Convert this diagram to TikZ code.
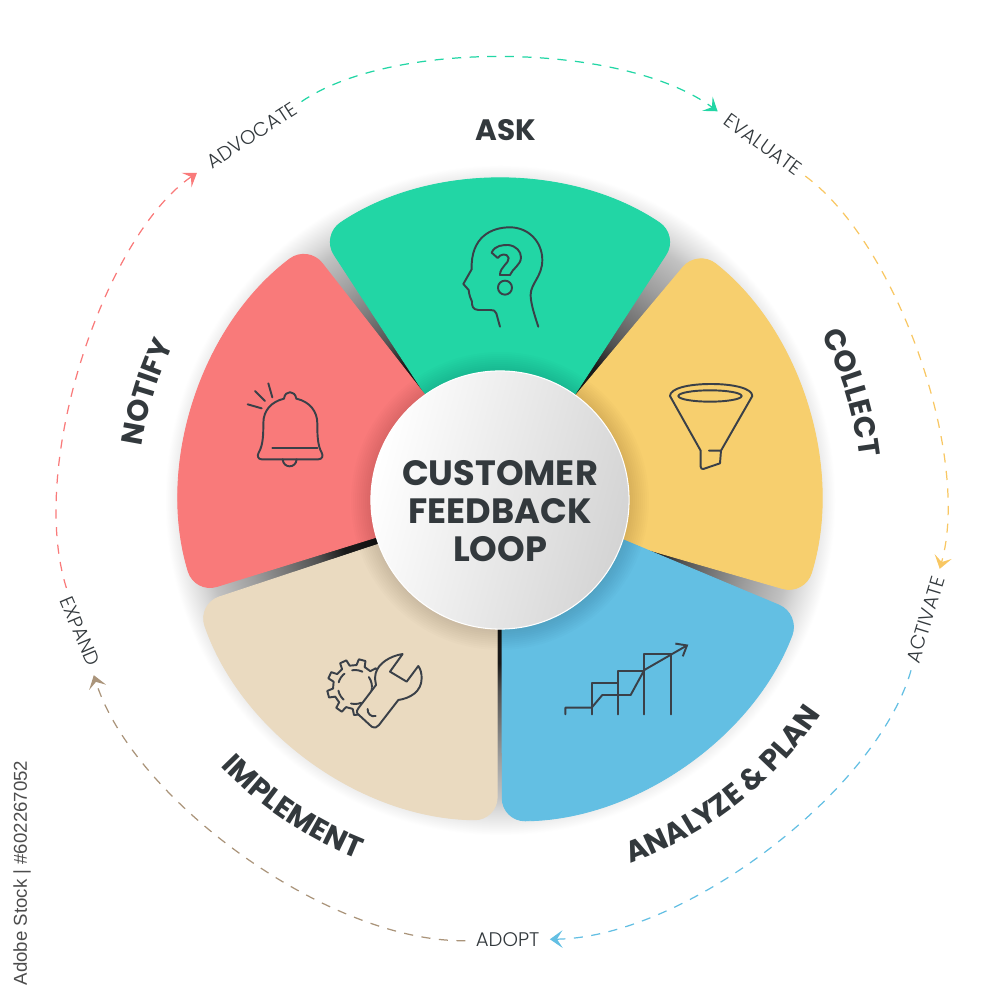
\documentclass[tikz,border=0pt]{standalone}
\usepackage{fontspec}
\usepackage{xcolor}
\usepackage{tikz}
\usetikzlibrary{arrows.meta,decorations.text}
\newfontfamily\poppinsbold{Poppins}[UprightFont=* Bold]
\newfontfamily\poppinslight{Poppins}[UprightFont=* Light]
\newfontfamily\stamp{Liberation Sans}
\newcommand{\bandfont}{\poppinsbold\fontsize{8.4}{10}\selectfont\color{inkgrey}}
\definecolor{inkgrey}{RGB}{51,57,61}
\definecolor{linegrey}{RGB}{58,64,72}
\definecolor{askgreen}{RGB}{34,214,165}
\definecolor{collectyellow}{RGB}{247,207,110}
\definecolor{planblue}{RGB}{99,191,227}
\definecolor{implementtan}{RGB}{234,218,192}
\definecolor{notifyred}{RGB}{249,122,122}
\definecolor{expandbrown}{RGB}{170,148,122}
\pgfdeclareradialshading{wheelhalo}{\pgfpoint{0bp}{0bp}}{%
  color(0bp)=(black!90);
  color(11.6bp)=(black!90);
  color(13.6bp)=(black!68);
  color(18.4bp)=(black!38);
  color(21.1bp)=(black!24);
  color(22bp)=(black!15);
  color(23.8bp)=(white);
  color(50bp)=(white)}
\tikzset{
  wedge/.style={draw=white,line width=0.25pt,rounded corners=6.5pt},
  iconline/.style={draw=linegrey,line width=0.55pt,line cap=round,line join=round},
  looplabel/.style={font=\poppinslight\fontsize{5.6}{7}\selectfont,text=inkgrey,inner ysep=1pt,inner xsep=2.5pt},
  looparrow/.style={line width=0.35pt,dash pattern=on 2.6pt off 2.4pt,looseness=0.86,
    -{Stealth[inset=1.6pt,length=3.6pt,width=5pt]}},
  bandtext/.style={decorate,decoration={text along path,text align=center,text={|\bandfont|#1}}},
}
\begin{document}
\begin{tikzpicture}[x=0.01cm,y=0.01cm]
  \useasboundingbox (-500,-500) rectangle (500,500);
  % soft shadow under the wheel
  \shade[shading=wheelhalo] (0,0) circle (352);
  % the five segments
  \fill[wedge,askgreen] (-6,0) -- (124:319) arc[start angle=124,end angle=56,radius=319] -- (6,0) -- cycle;
  \fill[wedge,collectyellow] (-12,0) -- (51.7:319) arc[start angle=51.7,end angle=-17.3,radius=319] -- (0,-7) -- cycle;
  \fill[wedge,planblue] (2,11) -- (-20.8:321) arc[start angle=-20.8,end angle=-89.6,radius=321] -- cycle;
  \fill[wedge,implementtan] (-3,-5) -- (-90.5:320) arc[start angle=-90.5,end angle=-161,radius=320] -- cycle;
  \fill[wedge,notifyred] (7,0) -- (127:319) arc[start angle=127,end angle=197,radius=319] -- (0,1) -- cycle;
  % shadow of the disc
  \foreach \r in {131,133,...,149}
    \fill[black,opacity=0.012] (0,-1) circle (\r);
  \node[circle,minimum size=2.58cm,inner sep=0pt,draw=white,line width=0.3pt,
    left color=white,right color=black!17,shading angle=75] (hub) at (0,0) {};
  \node[font=\poppinsbold\fontsize{10}{10.7}\selectfont,text=inkgrey,align=center] (hubtitle) at (0,-11)
    {CUSTOMER\\FEEDBACK\\LOOP};
  % band names
  \node[font=\bandfont] (ask) at (6,370) {ASK};
  \path[bandtext={COLLECT}] (28:362) arc[start angle=28,end angle=6,radius=362];
  \path[bandtext={ANALYZE {\&} PLAN}] (-76:386) arc[start angle=-76,end angle=-28,radius=386];
  \path[bandtext={IMPLEMENT}] (212:386) arc[start angle=212,end angle=260,radius=386];
  \path[bandtext={NOTIFY}] (176:362) arc[start angle=176,end angle=150,radius=362];
  % outer loop
  \node[looplabel,rotate=33] (advocate) at (124.2:441) {ADVOCATE};
  \node[looplabel,rotate=-36] (evaluate) at (53.5:442) {EVALUATE};
  \node[looplabel,rotate=73] (activate) at (-15.7:442) {ACTIVATE};
  \node[looplabel] (adopt) at (-89:440) {ADOPT};
  \node[looplabel,rotate=-67] (expand) at (197.4:440) {EXPAND};
  \draw[looparrow,askgreen,shorten <=17pt,shorten >=16pt] (advocate.center) to[bend left=35.35] (evaluate.center);
  \draw[looparrow,collectyellow!90!orange,shorten <=15pt,shorten >=15pt] (evaluate.center) to[bend left=34.6] (activate.center);
  \draw[looparrow,planblue,shorten <=15pt,shorten >=12pt] (activate.center) to[bend left=36.6] (adopt.center);
  \draw[looparrow,expandbrown,shorten <=12pt,shorten >=13pt] (adopt.center) to[bend left=36.8] (expand.center);
  \draw[looparrow,notifyred,shorten <=13pt,shorten >=19pt] (expand.center) to[bend left=36.6] (advocate.center);
  % head
  \begin{scope}[shift={(-180,330)},xscale=0.3333,yscale=-0.3333]
    \draw[iconline] (540,470) -- (529,430) .. controls (526,421) and (520,420) .. (510,420) -- (475,420)
      .. controls (458,420) and (455,405) .. (456,395) .. controls (452,385) and (448,378) .. (446,360)
      -- (430,342) -- (455,298) .. controls (452,200) and (515,172) .. (570,172)
      .. controls (625,172) and (667,215) .. (667,270) .. controls (667,320) and (632,340) .. (632,375)
      .. controls (632,400) and (645,440) .. (655,470);
    \draw[iconline] (515,248) .. controls (525,225) and (550,225) .. (565,225) .. controls (590,228) and (603,245) .. (603,262)
      .. controls (603,285) and (578,295) .. (570,315) -- (540,315) .. controls (540,290) and (568,280) .. (566,264)
      .. controls (562,248) and (540,252) .. (533,264) -- cycle;
    \draw[iconline] (555,353) circle (21);
  \end{scope}
  % funnel
  \begin{scope}[shift={(140,140)},xscale=0.3333,yscale=-0.3333]
    \draw[iconline] (207,272) -- (243,272) -- (337,108) .. controls (337,85) and (280,72) .. (213,72)
      .. controls (146,72) and (90,85) .. (90,108) -- (182,272) -- (182,320) .. controls (182,326) and (186,327) .. (190,327)
      -- (240,310) -- (243,272);
    \draw[iconline] (210,108) ellipse (95 and 17);
  \end{scope}
  % bell
  \begin{scope}[shift={(-270,130)},xscale=0.3333,yscale=-0.3333]
    \draw[iconline] (95,268) .. controls (85,268) and (80,258) .. (86,248) .. controls (100,225) and (100,190) .. (100,160)
      .. controls (100,120) and (125,95) .. (162,86) .. controls (165,60) and (195,60) .. (199,86)
      .. controls (240,95) and (262,125) .. (262,160) .. controls (262,190) and (262,225) .. (275,248)
      .. controls (281,258) and (276,268) .. (265,268) -- cycle;
    \draw[iconline] (158,268) .. controls (160,296) and (198,296) .. (200,268);
    \draw[iconline] (127,233) -- (262,233);
    \draw[iconline] (53,103) -- (95,115);
    \draw[iconline] (75,63) -- (105,93);
    \draw[iconline] (115,40) -- (127,82);
  \end{scope}
  % gear and wrench
  \begin{scope}[shift={(-145,-187)}]
    \draw[iconline] (75-14:22) \foreach \a in {75,115,155,195,235,275,315,355,35} { -- (\a-11:22) -- (\a-7:28) -- (\a+7:28) -- (\a+11:22) } -- cycle;
    \draw[iconline,dash pattern=on 3pt off 2.4pt] (0,0) circle (17);
  \end{scope}
  \begin{scope}[shift={(-190,-130)},xscale=0.3333,yscale=-0.3333]
    \filldraw[iconline,fill=implementtan] (278,72) .. controls (240,78) and (205,100) .. (197,130) .. controls (194,145) and (196,155) .. (198,165)
      -- (145,235) .. controls (138,245) and (140,250) .. (148,256) -- (185,290) .. controls (195,295) and (202,292) .. (207,285)
      -- (265,210) .. controls (300,205) and (335,185) .. (335,145) .. controls (335,130) and (332,118) .. (325,108)
      -- (290,155) -- (240,125) -- cycle;
    \draw[iconline] (173,237) .. controls (172,250) and (182,262) .. (197,258);
  \end{scope}
  % steps chart
  \begin{scope}[shift={(50,-130)},xscale=0.3333,yscale=-0.3333]
    \draw[iconline,-{Straight Barb[length=2.6pt,width=4.2pt]}] (46,253) -- (46,233) -- (125,233) -- (157,195) -- (242,195) -- (283,120) -- (415,44);
    \draw[iconline] (125,253) -- (125,160) -- (204,160) -- (204,253);
    \draw[iconline] (204,160) -- (204,122) -- (283,122) -- (283,253);
    \draw[iconline] (283,122) -- (283,72) -- (362,72) -- (362,253);
  \end{scope}
  \node[rotate=90,font=\stamp\fontsize{5.3}{7}\selectfont,text=black!70,inner sep=0pt] (credit) at (-478,-373) {Adobe Stock | \#602267052};
\end{tikzpicture}
\end{document}
